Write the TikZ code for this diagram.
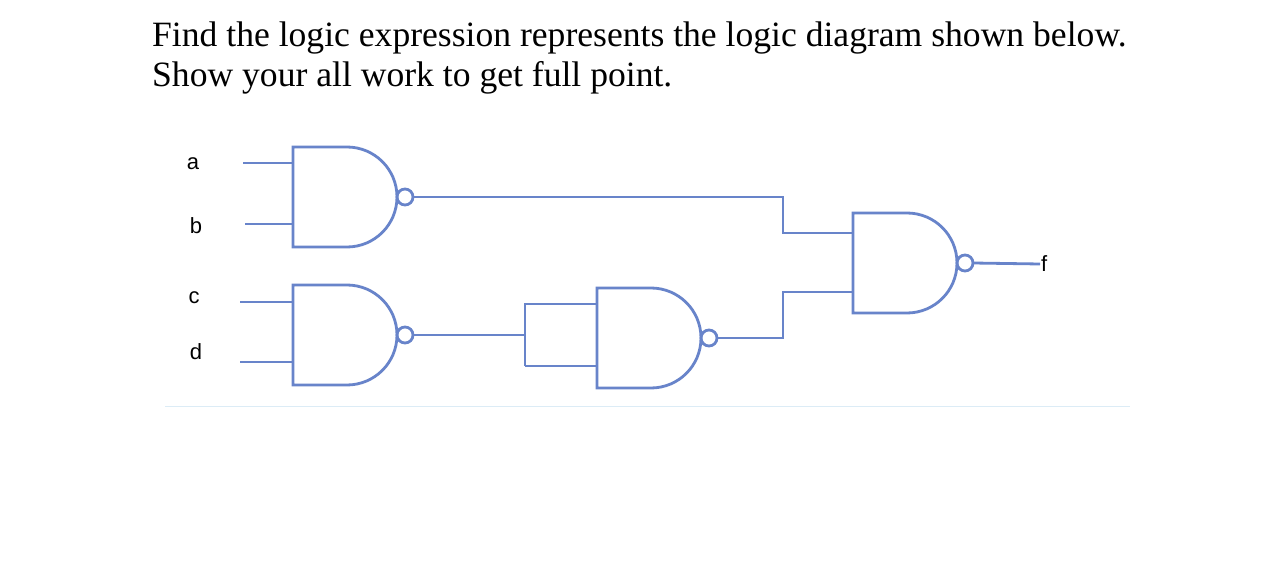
\documentclass[tikz,border=0pt]{standalone}
\usepackage{fontspec}
\setmainfont{Liberation Serif}
\newfontfamily\lblfont{Liberation Sans}
\definecolor{wire}{RGB}{104,132,202}
\begin{document}
\begin{tikzpicture}[x=1pt,y=-1pt,
  w/.style={draw=wire,line width=2.8pt},
  lbl/.style={font=\lblfont\fontsize{22}{22}\selectfont,anchor=center}]
\useasboundingbox (0,0) rectangle (1284,577);
\fill[white] (0,0) rectangle (1284,577);
\node[anchor=base west,inner sep=0,font=\fontsize{35.6}{40}\selectfont] (t1) at (152,47) {Find the logic expression represents the logic diagram shown below.};
\node[anchor=base west,inner sep=0,font=\fontsize{35.6}{40}\selectfont] (t2) at (152,87) {Show your all work to get full point.};
\tikzset{nand/.pic={
  \draw[w] (54,0) arc[start angle=-90,end angle=90,radius=50] -- (0,100) -- (0,0) -- cycle;
  \draw[w] (112,50) circle (8);
  \coordinate (-out) at (120,50);
}}
\pic (g1) at (293,147) {nand};
\pic (g2) at (293,285) {nand};
\pic (g3) at (597,288) {nand};
\pic (g4) at (853,213) {nand};
\node[lbl] (a) at (193,164) {a};
\node[lbl] (b) at (196,226) {b};
\node[lbl] (c) at (194,298) {c};
\node[lbl] (d) at (196,352) {d};
\node[lbl,anchor=west,inner sep=1pt] (f) at (1040,264) {f};
\draw[w] (243,163) -- (293,163);
\draw[w] (245,224) -- (293,224);
\draw[w] (240,302) -- (293,302);
\draw[w] (240,362) -- (293,362);
\draw[w] (g1-out) -- (783,197) -- (783,233) -- (853,233);
\draw[w] (g2-out) -- (525,335);
\draw[w] (525,303) -- (525,366);
\draw[w] (525,304) -- (597,304);
\draw[w] (525,366) -- (597,366);
\draw[w] (g3-out) -- (783,338) -- (783,292) -- (853,292);
\draw[w] (g4-out) -- (f.west);
\draw[draw={rgb,255:red,220;green,236;blue,246},line width=1pt] (165,406) -- (1130,406);
\end{tikzpicture}
\end{document}
